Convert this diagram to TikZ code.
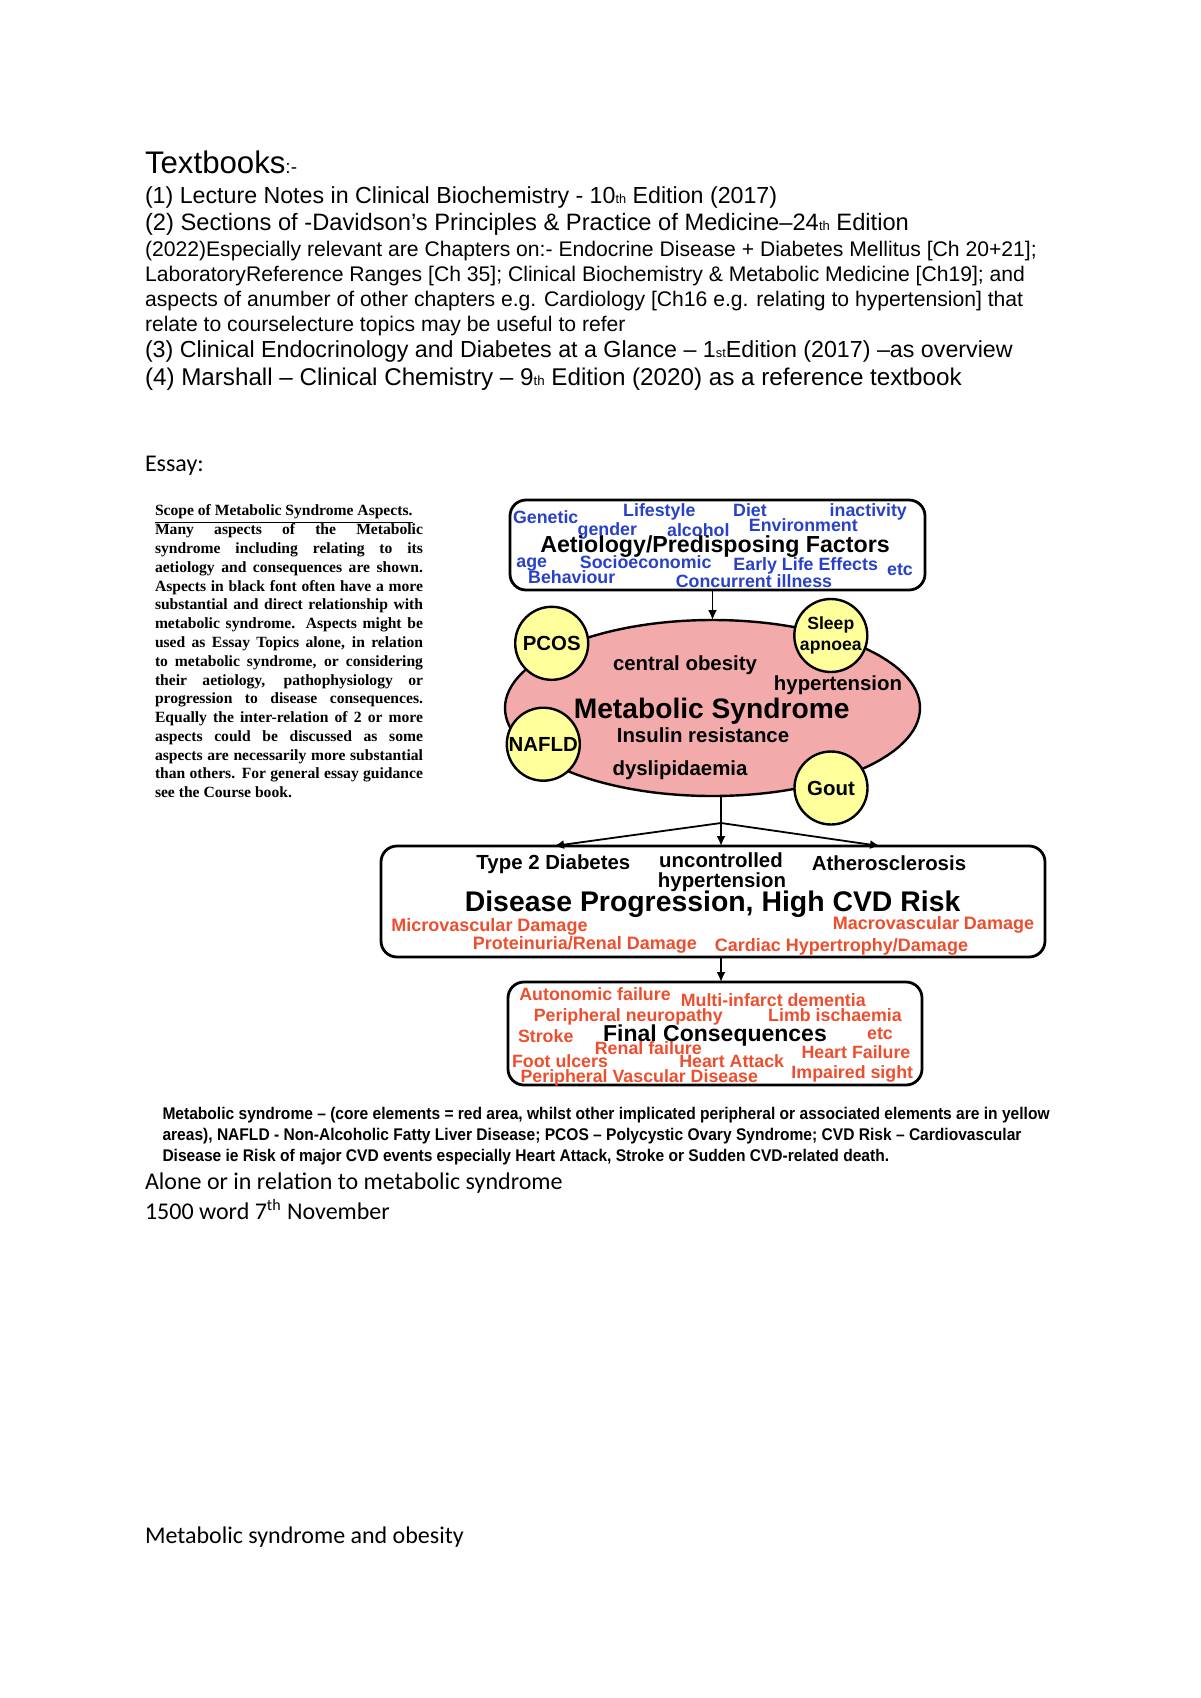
\documentclass[tikz,border=0pt]{standalone}
\usepackage{fontspec}
\usepackage{graphicx}
\setmainfont{Liberation Sans}
\newfontfamily\bodysans{Liberation Sans}
\newfontfamily\capsans[FakeStretch=0.92]{Liberation Sans}
\newfontfamily\calibri{Carlito}
\newfontfamily\timesf{Liberation Serif}
\usetikzlibrary{shapes.geometric,arrows.meta}

\definecolor{aetblue}{RGB}{40,65,200}
\definecolor{dmgred}{RGB}{238,78,45}
\definecolor{mspink}{RGB}{242,170,170}
\definecolor{sideyellow}{RGB}{255,255,155}

\newcommand{\ordlow}[1]{\scalebox{0.55}{#1}}
\newcommand{\jline}[1]{\makebox[134pt][s]{#1}}

\begin{document}
\begin{tikzpicture}[x=0.5pt, y=-0.5pt,
        every node/.style={inner sep=0pt, outer sep=0pt},
        headline/.style={anchor=base west, font=\bodysans\fontsize{#1}{13}\selectfont},
        headline/.default=11.8,
        bodyline/.style={anchor=base west, font=\bodysans\fontsize{10.57}{12}\selectfont},
        calline/.style={anchor=base west, font=\calibri\fontsize{12}{14}\selectfont},
        word/.style={text height=0.72em, text depth=0pt},
        blueword/.style={word, text=aetblue, font=\bfseries\fontsize{8.9}{10}\selectfont},
        msword/.style={word, font=\bfseries\fontsize{10.2}{11}\selectfont},
        redword/.style={word, text=dmgred, font=\bfseries\fontsize{9}{10}\selectfont},
        bigword/.style={word, font=\bfseries\fontsize{14.1}{15}\selectfont},
        roundbox/.style={draw, line width=1.4pt, rounded corners=8pt},
        sidecircle/.style={circle, draw, line width=1.2pt, fill=sideyellow, minimum size=36.5pt, align=center, font=\bfseries\fontsize{10.2}{10.5}\selectfont},
        arr/.style={-{Latex[length=5pt,width=4.5pt]}, line width=0.9pt}]

        \path[fill=white] (0,0) rectangle (1200,1698);
        \useasboundingbox (0,0) rectangle (1200,1698);

        \node[anchor=base west, font=\bodysans\fontsize{15.6}{17}\selectfont] (tb) at (145,173) {Textbooks{\fontsize{9.5}{10}\selectfont:-}};
        \node[headline=11.6] (ref1) at (145,203) {(1) Lecture Notes in Clinical Biochemistry - 10\ordlow{th} Edition (2017)};
        \node[headline=11.85] (ref2) at (145,230) {(2) Sections of -Davidson’s Principles \& Practice of Medicine–24\ordlow{th} Edition};
        \node[bodyline] (ref2a) at (145,256) {(2022)Especially relevant are Chapters on:- Endocrine Disease + Diabetes Mellitus [Ch 20+21];};
        \node[bodyline] (ref2b) at (145,281) {LaboratoryReference Ranges [Ch 35]; Clinical Biochemistry \& Metabolic Medicine [Ch19]; and};
        \node[bodyline] (ref2c) at (145,306) {aspects of anumber of other chapters e.g. Cardiology [Ch16 e.g. relating to hypertension] that};
        \node[bodyline] (ref2d) at (145,331) {relate to courselecture topics may be useful to refer};
        \node[headline=11.62] (ref3) at (145,357) {(3) Clinical Endocrinology and Diabetes at a Glance – 1\ordlow{st}Edition (2017) –as overview};
        \node[headline=12.1] (ref4) at (145,385) {(4) Marshall – Clinical Chemistry – 9\ordlow{th} Edition (2020) as a reference textbook};

        \node[calline] (essay) at (145,471.5) {Essay:};

        \node[anchor=north west, align=left, font=\timesf\bfseries\fontsize{7.8}{9.39}\selectfont] (scope) at (155,505) {\underline{Scope of Metabolic Syndrome Aspects.}\\
            \jline{Many aspects of the Metabolic}\\
            \jline{syndrome including relating to its}\\
            \jline{aetiology and consequences are shown.}\\
            \jline{Aspects in black font often have a more}\\
            \jline{substantial and direct relationship with}\\
            \jline{metabolic syndrome. Aspects might be}\\
            \jline{used as Essay Topics alone, in relation}\\
            \jline{to metabolic syndrome, or considering}\\
            \jline{their aetiology, pathophysiology or}\\
            \jline{progression to disease consequences.}\\
            \jline{Equally the inter-relation of 2 or more}\\
            \jline{aspects could be discussed as some}\\
            \jline{aspects are necessarily more substantial}\\
            \jline{than others. For general essay guidance}\\
            see the Course book.};

        \node[roundbox, minimum width=207.5pt, minimum height=45pt] (aet) at (717.5,545) {};
        \foreach \x/\y/\t [count=\i] in {545.7/516.7/Genetic, 659.3/509/Lifestyle, 750/509/Diet, 868.3/509/inactivity,
                607.3/528.3/gender, 698.3/529.3/alcohol, 803.3/524.3/Environment, 531.7/560/age,
                645.7/561.7/Socioeconomic, 805.7/563.3/Early Life Effects, 900/568.3/etc,
                571.7/576/Behaviour, 754/580/Concurrent illness}
            \node[blueword] (cause\i) at (\x,\y) {\t};
        \node[word, font=\bfseries\fontsize{11.6}{12}\selectfont] (aettitle) at (715,545) {Aetiology/Predisposing Factors};

        \node[ellipse, draw, line width=1.2pt, fill=mspink, minimum width=207.5pt, minimum height=88pt] (ms) at (712.5,708) {};
        \node[msword] (obes) at (685,663) {central obesity};
        \node[msword] (htn) at (838,683) {hypertension};
        \node[bigword] (mstitle) at (711.7,711) {Metabolic Syndrome};
        \node[msword] (ir) at (703,735) {Insulin resistance};
        \node[msword] (dysl) at (680,768) {dyslipidaemia};

        \node[sidecircle] (pcos) at (551.7,643.3) {PCOS};
        \node[sidecircle, font=\bfseries\fontsize{8.8}{10.5}\selectfont] (sleep) at (830.8,635.5) {Sleep\\apnoea};
        \node[sidecircle] (nafld) at (543.3,744.2) {NAFLD};
        \node[sidecircle] (gout) at (831,788) {Gout};

        \node[roundbox, minimum width=332pt, minimum height=55.5pt] (dis) at (713,901.5) {};
        \node[msword] (t2d) at (553.4,862) {Type 2 Diabetes};
        \node[msword] (unc) at (721,860) {uncontrolled};
        \node[msword] (unc2) at (722,880.5) {hypertension};
        \node[msword] (ath) at (889,863) {Atherosclerosis};
        \node[word, font=\bfseries\fontsize{14.2}{15}\selectfont] (distitle) at (712.6,904) {Disease Progression, High CVD Risk};
        \node[redword] (micro) at (489.5,923.8) {Microvascular Damage};
        \node[redword] (macro) at (933.5,922.7) {Macrovascular Damage};
        \node[redword] (renal) at (584.8,942.2) {Proteinuria/Renal Damage};
        \node[redword] (card) at (841.5,944.4) {Cardiac Hypertrophy/Damage};

        \node[roundbox, minimum width=207pt, minimum height=51.5pt] (fin) at (715,1033.5) {};
        \foreach \x/\y/\t [count=\i] in {595/993.3/Autonomic failure, 773.3/999/Multi-infarct dementia,
                628.3/1014.3/Peripheral neuropathy, 835/1014.3/Limb ischaemia, 545.7/1035/Stroke,
                880/1032.3/etc, 648.3/1047.7/Renal failure, 856/1051/Heart Failure, 560/1060/Foot ulcers,
                731.7/1060/Heart Attack, 852.3/1071.7/Impaired sight, 639.3/1075/Peripheral Vascular Disease}
            \node[redword, font=\bfseries\fontsize{8.9}{10}\selectfont] (end\i) at (\x,\y) {\t};
        \node[word, font=\bfseries\fontsize{11.5}{13}\selectfont] (fintitle) at (715,1034.3) {Final Consequences};

        \coordinate (fork) at (721,823);
        \coordinate (toleft) at (554,846);
        \coordinate (toright) at (880,846);
        \draw[arr] (ms.north |- aet.south) -- (ms.north);
        \draw[line width=0.9pt] (fork |- ms.south) -- (fork);
        \draw[arr] (fork) -- (toleft);
        \draw[arr] (fork) -- (toright);
        \draw[arr] (fork) -- (fork |- dis.north);
        \draw[arr] (fork |- dis.south) -- (fork |- fin.north);

        \node[anchor=base west, align=left, font=\capsans\bfseries\fontsize{8.46}{10.4}\selectfont] (caption) at (162.5,1161) {Metabolic syndrome – (core elements = red area, whilst other implicated peripheral or associated elements are in yellow\\
            areas), NAFLD - Non-Alcoholic Fatty Liver Disease; PCOS – Polycystic Ovary Syndrome; CVD Risk – Cardiovascular\\
            Disease ie Risk of major CVD events especially Heart Attack, Stroke or Sudden CVD-related death.};

        \node[calline] (alone) at (145,1189) {Alone or in relation to metabolic syndrome};
        \node[calline] (due) at (145,1219) {1500 word 7\textsuperscript{th} November};
        \node[calline] (obesity) at (145,1543) {Metabolic syndrome and obesity};
    \end{tikzpicture}
\end{document}
